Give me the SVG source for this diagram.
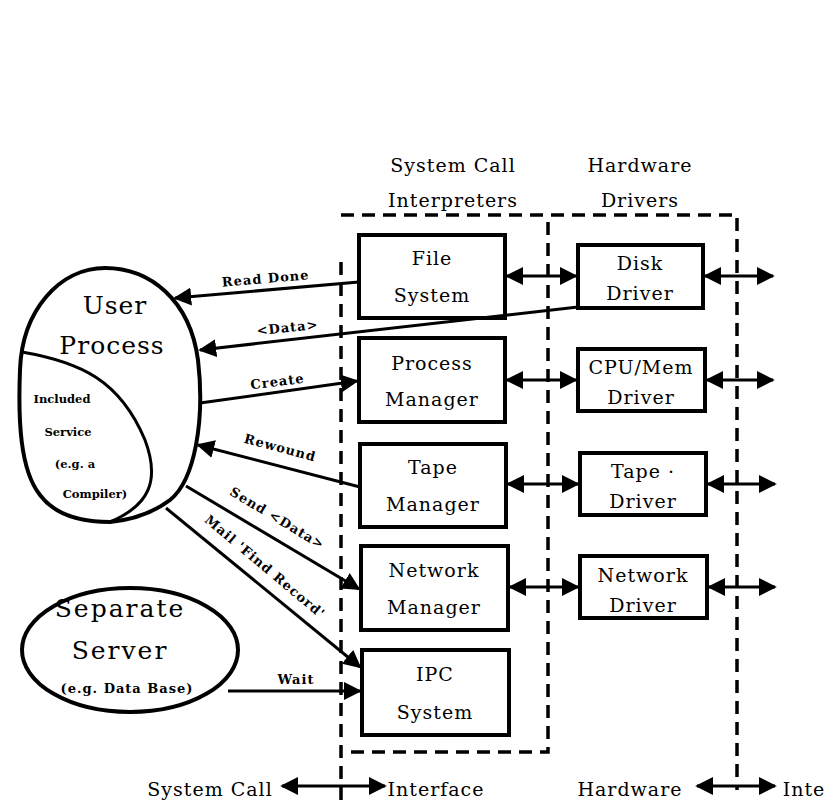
<svg xmlns="http://www.w3.org/2000/svg" width="837" height="810" viewBox="0 0 837 810">
<style>
text{font-family:"DejaVu Serif","Liberation Serif",serif;fill:#000;text-anchor:middle}
.b{fill:#fff;stroke:#000;stroke-width:4}
.d{fill:none;stroke:#000;stroke-width:3.5;stroke-dasharray:13,8}
.c{fill:none;stroke:#000;stroke-width:3}
.t{font-size:19px;letter-spacing:1px}
.s{font-size:13px;font-weight:bold;letter-spacing:1px}
</style>
<defs>
<marker id="a" viewBox="0 0 10 10" refX="9" refY="5" markerWidth="6" markerHeight="6" orient="auto-start-reverse"><path d="M0,0L10,5L0,10z"/></marker>
</defs>
<rect width="837" height="810" fill="#fff"/>
<g id="frame">
<path class="d" d="M341,262V800M341,215H737V790M548,222V752H346"/>
<text class="t" x="453" y="172">System Call</text>
<text class="t" x="453" y="207">Interpreters</text>
<text class="t" x="640" y="172">Hardware</text>
<text class="t" x="640" y="207">Drivers</text>
<text class="t" x="210" y="796">System Call</text>
<text class="t" x="436" y="796">Interface</text>
<text class="t" x="630" y="796">Hardware</text>
<text class="t" x="804" y="796">Inte</text>
</g>
<g id="user-process">
<path class="b" d="M105,268C150,268 190,300 198,360C205,420 195,480 170,500C150,515 130,520 110,522C80,522 55,515 40,495C20,470 18,420 20,370C22,310 60,268 105,268Z"/>
<path class="c" d="M22,352C80,362 120,380 145,440C160,480 150,505 110,522" stroke-width="3.5"/>
<text x="115" y="314" font-size="25" letter-spacing="1">User</text>
<text x="112" y="354" font-size="25" letter-spacing="1">Process</text>
<text x="62" y="403" font-size="11.5" font-weight="bold">Included</text>
<text x="68" y="436" font-size="11.5" font-weight="bold">Service</text>
<text x="75" y="468" font-size="11.5" font-weight="bold">(e.g.  a</text>
<text x="95" y="498" font-size="11.5" font-weight="bold">Compiler)</text>
</g>
<g id="separate-server">
<ellipse class="b" cx="130" cy="650" rx="108" ry="62"/>
<text x="120" y="617" font-size="25" letter-spacing="2">Separate</text>
<text x="120" y="659" font-size="25" letter-spacing="2">Server</text>
<text x="127" y="693" font-size="13" font-weight="bold" letter-spacing="1">(e.g. Data Base)</text>
</g>
<g id="file-system"><rect class="b" x="359" y="235" width="146" height="83"/><text class="t" x="432" y="265">File</text><text class="t" x="432" y="302">System</text></g>
<g id="process-manager"><rect class="b" x="359" y="338" width="146" height="84"/><text class="t" x="432" y="370">Process</text><text class="t" x="432" y="406">Manager</text></g>
<g id="tape-manager"><rect class="b" x="360" y="444" width="146" height="83"/><text class="t" x="433" y="474">Tape</text><text class="t" x="433" y="511">Manager</text></g>
<g id="network-manager"><rect class="b" x="361" y="546" width="147" height="84"/><text class="t" x="434" y="577">Network</text><text class="t" x="434" y="614">Manager</text></g>
<g id="ipc-system"><rect class="b" x="362" y="650" width="147" height="85"/><text class="t" x="435" y="681">IPC</text><text class="t" x="435" y="719">System</text></g>
<g id="disk-driver"><rect class="b" x="578" y="245" width="125" height="63"/><text class="t" x="640" y="270">Disk</text><text class="t" x="640" y="300">Driver</text></g>
<g id="cpu-driver"><rect class="b" x="578" y="349" width="127" height="62"/><text class="t" x="641" y="374" letter-spacing="0">CPU/Mem</text><text class="t" x="641" y="404">Driver</text></g>
<g id="tape-driver"><rect class="b" x="580" y="453" width="126" height="62"/><text class="t" x="643" y="478">Tape ·</text><text class="t" x="643" y="508">Driver</text></g>
<g id="network-driver"><rect class="b" x="580" y="556" width="127" height="62"/><text class="t" x="643" y="582" letter-spacing="0">Network</text><text class="t" x="643" y="612">Driver</text></g>
<g id="connectors">
<path class="c" marker-end="url(#a)" d="M359,282L175,298"/>
<path class="c" marker-end="url(#a)" d="M578,307L200,350"/>
<path class="c" marker-end="url(#a)" d="M200,403L357,381"/>
<path class="c" marker-end="url(#a)" d="M360,487L198,445"/>
<path class="c" marker-end="url(#a)" d="M186,486L359,589"/>
<path class="c" marker-end="url(#a)" d="M166,508L360,667"/>
<path class="c" marker-end="url(#a)" d="M228,691L360,691"/>
<g marker-start="url(#a)" marker-end="url(#a)">
<path class="c" d="M507,276H576"/><path class="c" d="M507,380H576"/><path class="c" d="M508,484H578"/><path class="c" d="M510,587H578"/>
<path class="c" d="M705,276H773"/><path class="c" d="M707,380H773"/><path class="c" d="M708,484H775"/><path class="c" d="M709,587H775"/>
<path class="c" d="M282,786H385"/><path class="c" d="M697,786H775"/>
</g>
<text class="s" x="266" y="283" transform="rotate(-5 266 283)">Read Done</text>
<text class="s" x="288" y="332" transform="rotate(-6 288 332)" font-size="12">&lt;Data&gt;</text>
<text class="s" x="278" y="386" transform="rotate(-7 278 386)">Create</text>
<text class="s" x="279" y="452" transform="rotate(15 279 452)">Rewound</text>
<text class="s" x="275" y="522" transform="rotate(31 275 522)">Send &lt;Data&gt;</text>
<text class="s" x="262" y="570" transform="rotate(40 262 570)">Mail 'Find Record'</text>
<text class="s" x="296" y="684">Wait</text>
</g>
</svg>
